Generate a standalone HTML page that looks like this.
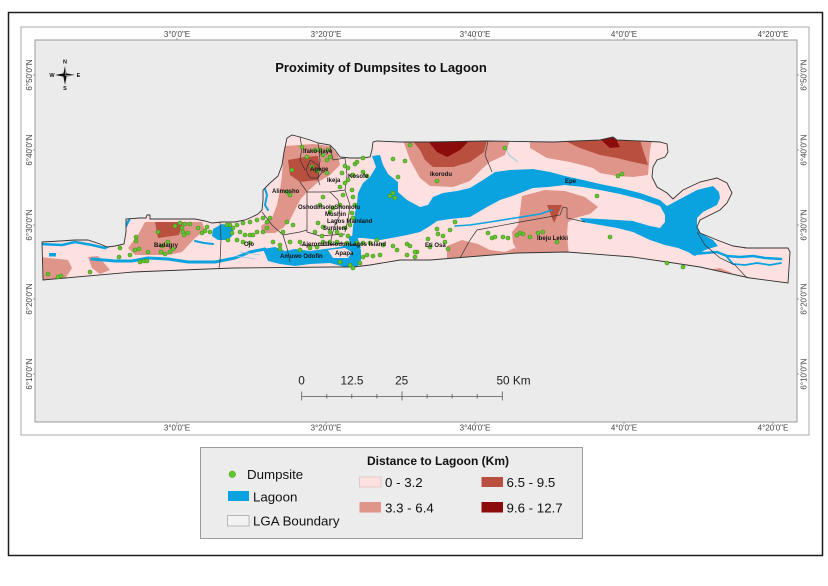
<!DOCTYPE html>
<html><head><meta charset="utf-8"><style>
html,body{margin:0;padding:0;background:#fff;}
svg{display:block;}
text{font-family:"Liberation Sans",sans-serif;}
.d{fill:#66c52f;stroke:#3f8a1f;stroke-width:.6;}
.lb{font-size:6px;font-weight:bold;fill:#111;}
.ax{font-size:8px;fill:#444;}
.lga{fill:none;stroke:#333;stroke-width:.7;}
.ch{fill:none;stroke:#0aa2df;stroke-linejoin:round;stroke-linecap:round;}
</style></head><body>
<svg width="828" height="586" viewBox="0 0 828 586" xmlns="http://www.w3.org/2000/svg">
<defs>
<clipPath id="st"><polygon id="stp" points="42,242 60,241 75,240 88,240 100,244 107,247 115,246 124,244 126,232 126,219 140,218 146,218 147,215 150,215 150,219 170,219 195,219 205,221 212,223 222,222 235,222 245,220 252,217 258,214 262,210 263,200 263,190 270,183 278,176 282,165 284,152 287,138 292,135 300,137 310,140 318,143 330,145 335,150 340,157 350,158 362,158 370,157 372,150 373,142 377,141 400,142 430,142 487,141 553,142 600,140 613,137 617,140 640,141 660,142 667,144 668,152 665,157 657,160 653,167 652,177 657,187 667,193 673,199 683,190 700,182 717,178 727,183 732,193 727,203 720,210 700,220 697,227 700,233 717,240 733,246 747,248 788,248 790,252 788,283 750,278 700,267 667,262 633,257 567,252 517,253 467,257 430,260 400,260 370,265 353,267 333,267 233,268 133,272 43,280"/></clipPath>
</defs>
<rect x="0" y="0" width="828" height="586" fill="#fff"/>
<!-- outer frame -->
<rect x="8.5" y="12.5" width="814" height="543" fill="none" stroke="#1c1c1c" stroke-width="1.5"/>
<!-- map frame -->
<rect x="21" y="27" width="788" height="408" fill="#fff" stroke="#a8a8a8" stroke-width="1"/>
<rect x="35" y="40" width="762" height="382" fill="#ebebeb" stroke="#9a9a9a" stroke-width="1"/>

<!-- ticks -->
<g stroke="#777" stroke-width=".7">
<line x1="177" y1="38" x2="177" y2="40"/><line x1="326" y1="38" x2="326" y2="40"/><line x1="475" y1="38" x2="475" y2="40"/><line x1="624" y1="38" x2="624" y2="40"/><line x1="773" y1="38" x2="773" y2="40"/>
<line x1="177" y1="422" x2="177" y2="424"/><line x1="326" y1="422" x2="326" y2="424"/><line x1="475" y1="422" x2="475" y2="424"/><line x1="624" y1="422" x2="624" y2="424"/><line x1="773" y1="422" x2="773" y2="424"/>
<line x1="33" y1="75" x2="35" y2="75"/><line x1="33" y1="150" x2="35" y2="150"/><line x1="33" y1="225" x2="35" y2="225"/><line x1="33" y1="299" x2="35" y2="299"/><line x1="33" y1="374" x2="35" y2="374"/>
<line x1="797" y1="75" x2="799" y2="75"/><line x1="797" y1="150" x2="799" y2="150"/><line x1="797" y1="225" x2="799" y2="225"/><line x1="797" y1="299" x2="799" y2="299"/><line x1="797" y1="374" x2="799" y2="374"/>
</g>
<g class="ax" text-anchor="middle">
<text x="177" y="37">3°0'0"E</text><text x="326" y="37">3°20'0"E</text><text x="475" y="37">3°40'0"E</text><text x="624" y="37">4°0'0"E</text><text x="773" y="37">4°20'0"E</text>
<text x="177" y="430.5">3°0'0"E</text><text x="326" y="430.5">3°20'0"E</text><text x="475" y="430.5">3°40'0"E</text><text x="624" y="430.5">4°0'0"E</text><text x="773" y="430.5">4°20'0"E</text>
<text transform="translate(32,75) rotate(-90)">6°50'0"N</text>
<text transform="translate(32,150) rotate(-90)">6°40'0"N</text>
<text transform="translate(32,225) rotate(-90)">6°30'0"N</text>
<text transform="translate(32,299) rotate(-90)">6°20'0"N</text>
<text transform="translate(32,374) rotate(-90)">6°10'0"N</text>
<text transform="translate(806.5,75) rotate(-90)">6°50'0"N</text>
<text transform="translate(806.5,150) rotate(-90)">6°40'0"N</text>
<text transform="translate(806.5,225) rotate(-90)">6°30'0"N</text>
<text transform="translate(806.5,299) rotate(-90)">6°20'0"N</text>
<text transform="translate(806.5,374) rotate(-90)">6°10'0"N</text>
</g>

<!-- title -->
<text x="381" y="72" text-anchor="middle" font-size="13" font-weight="bold" fill="#111">Proximity of Dumpsites to Lagoon</text>

<!-- compass -->
<polygon points="65,66 66.6,73.4 75,75 66.6,76.6 65,85 63.4,76.6 55,75 63.4,73.4" fill="#111"/>
<polygon points="65,66 66.6,73.4 65,75" fill="#fff" opacity=".5"/>
<polygon points="75,75 66.6,76.6 65,75" fill="#fff" opacity=".5"/>
<g font-family="Liberation Serif,serif" font-size="5.5" font-weight="bold" fill="#111" text-anchor="middle">
<text x="65" y="63.5">N</text><text x="65" y="90">S</text><text x="52" y="77">W</text><text x="78.5" y="77">E</text>
</g>

<!-- MAP -->
<g clip-path="url(#st)">
<rect x="40" y="130" width="760" height="160" fill="#fde1e1"/>
<!-- salmon 3.3-6.4 -->
<g fill="#e0958b">
<polygon points="145,222 202,222 205,230 195,238 182,252 168,255 135,255 128,248 138,235"/>
<polygon points="40,257 68,260 72,268 65,279 40,282"/>
<polygon points="88,257 98,256 110,270 100,274 92,268"/>
<polygon points="285,146 313,144 330,146 338,155 340,165 330,175 318,182 307,192 300,200 295,210 290,220 283,228 275,233 262,233 261,226 272,218 277,205 280,190 282,175 283,160"/>
<polygon points="403,140 510,140 505,155 490,162 483,168 470,181 453,187 430,186 420,178 410,160"/>
<polygon points="530,140 652,140 650,150 648,175 633,177 617,176 600,173 593,168 570,162 547,158 530,148"/>
<polygon points="522,196 545,190 565,191 585,197 598,207 590,214 575,218 568,222 567,235 569,256 545,256 520,256 513,243 512,232 518,225 520,212"/>
<polygon points="447,246 462,240 478,244 490,250 505,252 515,248 522,256 447,262"/>
<polygon points="705,270 720,268 732,273 716,276"/>
<polygon points="738,244 748,245 745,249"/>
</g>
<!-- 6.5-9.5 -->
<g fill="#b84f3f">
<polygon points="155,222 183,222 179,235 158,238"/>
<polygon points="288,160 305,157 318,156 320,168 318,180 300,182 290,175"/>
<polygon points="412,140 487,140 484,152 470,162 453,167 433,167 425,160 420,150"/>
<polygon points="563,140 640,140 643,150 648,165 633,162 617,158 600,155 580,148"/>
<polygon points="547,205 562,205 554,223"/>
</g>
<!-- 9.6-12.7 -->
<g fill="#8c0c0c">
<polygon points="427,140 470,140 460,150 447,157 437,152"/>
<polygon points="600,139 615,137 620,147 610,148"/>
</g>
<!-- lagoon -->
<g fill="#0aa2df">
<polygon points="372,156 380,155 383,165 388,174 398,182 398,192 407,200 420,207 428,205 433,197 443,193 457,191 470,188 483,180 495,172 510,170 533,169 550,172 565,176 583,180 600,184 620,188 640,193 660,200 667,206 680,199 697,190 713,186 719,192 720,198 717,205 703,212 697,218 697,228 702,234 713,240 718,246 705,250 695,256 688,252 678,248 665,245 650,240 633,232 617,228 600,225 583,222 580,218 600,219 617,220 633,221 650,226 660,228 665,222 665,215 660,206 640,199 620,194 600,190 583,187 565,185 548,187 533,188 515,195 500,200 487,207 470,217 450,219 437,221 430,226 420,232 407,235 397,237 380,240 363,238 352,238 353,227 355,213 357,203 358,193 363,183 370,177 376,167"/>
<polygon points="348,236 357,236 361,248 352,250"/>
<polygon points="263,249 275,247 285,251 295,249 310,251 325,249 340,247 350,244 356,240 361,250 361,260 356,269 345,267 330,263 310,264 295,266 280,264 268,261"/>
<polygon points="213,229 222,224 232,226 234,234 228,240 218,240 212,236"/>
<rect x="49" y="253" width="7" height="3.5"/>
</g>
<polygon points="328,250 345,248 352,252 348,258 333,258" fill="#fde1e1"/>
<polygon points="665,249 678,251 690,256 680,258 668,255" fill="#fde1e1"/>
<path class="ch" stroke-width="2.5" d="M40,244 L62,245 75,242 92,245 105,248 115,243 122,233 127,224 130,218"/>
<path class="ch" stroke-width="3" d="M92,259 L115,261 132,261 148,258 168,259 188,262 215,262 235,258 250,252 265,249"/>
<path class="ch" stroke-width="2" d="M195,241 L204,243 213,244"/>
<path class="ch" stroke-width="2" d="M264,186 L267,195 265,205 268,210"/>
<path class="ch" stroke-width="1.6" d="M455,226 L470,225 490,222 515,218 540,214 552,210"/>
<path class="ch" stroke-width="2.5" d="M693,254 L705,253 717,252 727,256 740,257 753,256 765,258 781,259"/>
<path class="ch" stroke-width="1.8" d="M727,257 L733,264 745,265 757,263 770,265 781,263"/>
<path fill="none" stroke="#8fc9e6" stroke-width=".8" d="M505,145 L509,155 518,162 M240,252 L260,255 M236,256 L255,259"/>
</g>
<use href="#stp" fill="none" stroke="#333" stroke-width=".9"/>

<!-- LGA boundaries -->
<g class="lga">
<polyline points="220,222 221,240 220,262 219,268"/>
<polyline points="262,212 272,225 283,235 287,248 290,262"/>
<polyline points="283,235 300,232 307,230"/>
<polyline points="307,192 307,232"/>
<polyline points="300,182 307,192 330,192 345,190"/>
<polyline points="318,143 320,160 318,180 320,185"/>
<polyline points="300,137 302,148 300,160 305,170"/>
<polyline points="330,146 333,160 345,158"/>
<polyline points="345,158 347,175 345,190 350,205 348,220 345,232"/>
<polyline points="330,192 338,200 340,215 335,225 332,235 330,245"/>
<polyline points="307,232 320,236 332,235 345,234"/>
<polyline points="300,245 315,246 330,245 345,243 360,246"/>
<polyline points="488,141 485,155 490,167 492,172"/>
<polyline points="460,258 470,240 477,230 520,222 560,215 563,207 567,208 567,218 585,222"/>
<polyline points="697,232 705,245 720,258 735,265 747,278"/>
<polyline points="310,160 318,165 322,172 318,178 310,178 306,170 310,160"/>
</g>

<!-- dumpsites -->
<g class="d">
<circle cx="136" cy="237" r="2"/><circle cx="136" cy="241" r="2"/><circle cx="120" cy="248" r="2"/><circle cx="119" cy="257" r="2"/><circle cx="135" cy="250" r="2"/><circle cx="139" cy="249" r="2"/><circle cx="148" cy="252" r="2"/><circle cx="161" cy="252" r="2"/><circle cx="165" cy="254" r="2"/><circle cx="170" cy="252" r="2"/><circle cx="168" cy="242" r="2"/><circle cx="158" cy="232" r="2"/><circle cx="175" cy="226" r="2"/><circle cx="185" cy="224" r="2"/><circle cx="190" cy="224" r="2"/><circle cx="182" cy="228" r="2"/><circle cx="183" cy="232" r="2"/><circle cx="188" cy="233" r="2"/><circle cx="184" cy="235" r="2"/><circle cx="198" cy="228" r="2"/><circle cx="202" cy="233" r="2"/><circle cx="205" cy="231" r="2"/><circle cx="207" cy="227" r="2"/><circle cx="210" cy="232" r="2"/><circle cx="227" cy="225" r="2"/><circle cx="232" cy="233" r="2"/><circle cx="228" cy="240" r="2"/><circle cx="140" cy="262" r="2"/><circle cx="144" cy="261" r="2"/><circle cx="147" cy="261" r="2"/><circle cx="130" cy="255" r="2"/><circle cx="90" cy="272" r="2"/><circle cx="48" cy="274" r="2"/><circle cx="58" cy="277" r="2"/><circle cx="61" cy="276" r="2"/><circle cx="162" cy="246" r="2"/><circle cx="173" cy="249" r="2"/><circle cx="180" cy="223" r="2"/>
<circle cx="230" cy="225" r="2"/><circle cx="233" cy="228" r="2"/><circle cx="237" cy="225" r="2"/><circle cx="243" cy="223" r="2"/><circle cx="250" cy="222" r="2"/><circle cx="240" cy="232" r="2"/><circle cx="245" cy="235" r="2"/><circle cx="250" cy="235" r="2"/><circle cx="257" cy="220" r="2"/><circle cx="263" cy="218" r="2"/><circle cx="267" cy="222" r="2"/><circle cx="270" cy="218" r="2"/><circle cx="267" cy="228" r="2"/><circle cx="263" cy="232" r="2"/><circle cx="257" cy="232" r="2"/><circle cx="253" cy="235" r="2"/><circle cx="243" cy="242" r="2"/><circle cx="250" cy="243" r="2"/><circle cx="237" cy="240" r="2"/><circle cx="273" cy="242" r="2"/><circle cx="280" cy="245" r="2"/><circle cx="290" cy="242" r="2"/><circle cx="300" cy="242" r="2"/><circle cx="293" cy="225" r="2"/><circle cx="287" cy="222" r="2"/><circle cx="283" cy="232" r="2"/><circle cx="292" cy="170" r="2"/><circle cx="290" cy="195" r="2"/><circle cx="287" cy="192" r="2"/><circle cx="302" cy="147" r="2"/><circle cx="307" cy="157" r="2"/><circle cx="312" cy="167" r="2"/><circle cx="315" cy="150" r="2"/><circle cx="320" cy="150" r="2"/><circle cx="323" cy="155" r="2"/><circle cx="328" cy="150" r="2"/><circle cx="327" cy="160" r="2"/><circle cx="330" cy="157" r="2"/><circle cx="317" cy="171" r="2"/><circle cx="327" cy="173" r="2"/><circle cx="323" cy="197" r="2"/><circle cx="320" cy="205" r="2"/><circle cx="330" cy="212" r="2"/><circle cx="333" cy="208" r="2"/><circle cx="340" cy="205" r="2"/><circle cx="343" cy="195" r="2"/><circle cx="340" cy="187" r="2"/><circle cx="345" cy="183" r="2"/><circle cx="348" cy="180" r="2"/><circle cx="348" cy="168" r="2"/><circle cx="353" cy="175" r="2"/><circle cx="355" cy="164" r="2"/><circle cx="345" cy="166" r="2"/><circle cx="342" cy="173" r="2"/><circle cx="352" cy="190" r="2"/><circle cx="353" cy="197" r="2"/><circle cx="355" cy="205" r="2"/><circle cx="352" cy="213" r="2"/><circle cx="353" cy="218" r="2"/><circle cx="350" cy="225" r="2"/><circle cx="345" cy="228" r="2"/><circle cx="341" cy="235" r="2"/><circle cx="348" cy="236" r="2"/><circle cx="337" cy="232" r="2"/><circle cx="330" cy="232" r="2"/><circle cx="323" cy="227" r="2"/><circle cx="318" cy="223" r="2"/><circle cx="315" cy="232" r="2"/><circle cx="322" cy="236" r="2"/><circle cx="330" cy="242" r="2"/><circle cx="323" cy="242" r="2"/><circle cx="337" cy="242" r="2"/><circle cx="347" cy="243" r="2"/><circle cx="357" cy="243" r="2"/><circle cx="363" cy="243" r="2"/><circle cx="370" cy="243" r="2"/><circle cx="377" cy="240" r="2"/><circle cx="383" cy="245" r="2"/><circle cx="393" cy="246" r="2"/><circle cx="407" cy="244" r="2"/><circle cx="410" cy="246" r="2"/><circle cx="417" cy="252" r="2"/><circle cx="367" cy="255" r="2"/><circle cx="373" cy="256" r="2"/><circle cx="363" cy="257" r="2"/><circle cx="350" cy="265" r="2"/><circle cx="353" cy="268" r="2"/><circle cx="280" cy="249" r="2"/><circle cx="300" cy="250" r="2"/><circle cx="310" cy="248" r="2"/><circle cx="317" cy="247" r="2"/><circle cx="340" cy="262" r="2"/><circle cx="357" cy="162" r="2"/><circle cx="363" cy="158" r="2"/><circle cx="367" cy="176" r="2"/><circle cx="363" cy="172" r="2"/><circle cx="393" cy="159" r="2"/><circle cx="405" cy="161" r="2"/><circle cx="390" cy="196" r="2"/><circle cx="395" cy="198" r="2"/><circle cx="393" cy="193" r="2"/><circle cx="410" cy="145" r="2"/><circle cx="398" cy="177" r="2"/><circle cx="397" cy="250" r="2"/><circle cx="380" cy="255" r="2"/><circle cx="407" cy="255" r="2"/><circle cx="415" cy="252" r="2"/><circle cx="415" cy="257" r="2"/><circle cx="360" cy="263" r="2"/>
<circle cx="437" cy="181" r="2"/><circle cx="505" cy="148" r="2"/><circle cx="455" cy="222" r="2"/><circle cx="437" cy="229" r="2"/><circle cx="438" cy="234" r="2"/><circle cx="443" cy="236" r="2"/><circle cx="445" cy="242" r="2"/><circle cx="450" cy="230" r="2"/><circle cx="428" cy="239" r="2"/><circle cx="430" cy="247" r="2"/><circle cx="448" cy="249" r="2"/><circle cx="488" cy="233" r="2"/><circle cx="492" cy="238" r="2"/><circle cx="495" cy="237" r="2"/><circle cx="503" cy="237" r="2"/><circle cx="508" cy="238" r="2"/><circle cx="517" cy="235" r="2"/><circle cx="520" cy="233" r="2"/><circle cx="523" cy="234" r="2"/><circle cx="530" cy="237" r="2"/><circle cx="538" cy="233" r="2"/><circle cx="543" cy="232" r="2"/><circle cx="557" cy="242" r="2"/><circle cx="597" cy="196" r="2"/><circle cx="610" cy="237" r="2"/><circle cx="618" cy="176" r="2"/><circle cx="622" cy="174" r="2"/><circle cx="667" cy="263" r="2"/><circle cx="683" cy="267" r="2"/>
</g>

<!-- LGA labels -->
<g class="lb">
<text x="154" y="247">Badagry</text>
<text x="244" y="246">Ojo</text>
<text x="272" y="193">Alimosho</text>
<text x="303" y="153">Ifako-Ijaye</text>
<text x="310" y="171">Agege</text>
<text x="327" y="182">Ikeja</text>
<text x="348" y="178">Kosofe</text>
<text x="298" y="209">Oshodi/IsoloShomolu</text>
<text x="325" y="216">Mushin</text>
<text x="327" y="223">Lagos Mainland</text>
<text x="323" y="230">Surulere</text>
<text x="302" y="246">Ajeromi/IfelodunLagos Island</text>
<text x="280" y="258">Amuwo Odofin</text>
<text x="335" y="255">Apapa</text>
<text x="430" y="176">Ikorodu</text>
<text x="565" y="183">Epe</text>
<text x="425" y="247">Eti Osa</text>
<text x="537" y="240">Ibeju Lekki</text>
</g>

<!-- scale bar -->
<g font-size="11.8" fill="#222">
<text x="301.5" y="384.5" text-anchor="middle">0</text>
<text x="352" y="384.5" text-anchor="middle">12.5</text>
<text x="401.7" y="384.5" text-anchor="middle">25</text>
<text x="496.5" y="384.5">50 Km</text>
</g>
<g stroke="#555" stroke-width=".8">
<line x1="301.7" y1="396.5" x2="502.3" y2="396.5"/>
<line x1="301.7" y1="391.5" x2="301.7" y2="400.5"/>
<line x1="326.8" y1="394" x2="326.8" y2="398.5"/>
<line x1="351.8" y1="394" x2="351.8" y2="398.5"/>
<line x1="376.9" y1="394" x2="376.9" y2="398.5"/>
<line x1="402" y1="391.5" x2="402" y2="400.5"/>
<line x1="427.1" y1="394" x2="427.1" y2="398.5"/>
<line x1="452.1" y1="394" x2="452.1" y2="398.5"/>
<line x1="477.2" y1="394" x2="477.2" y2="398.5"/>
<line x1="502.3" y1="391.5" x2="502.3" y2="400.5"/>
</g>

<!-- legend -->
<rect x="200.5" y="447.5" width="382" height="91" fill="#ececec" stroke="#9c9c9c" stroke-width="1"/>
<circle cx="232.3" cy="474.3" r="3.3" fill="#5cc62a" stroke="#4aa020" stroke-width=".5"/>
<text x="247" y="479" font-size="13.3" fill="#111">Dumpsite</text>
<rect x="228" y="491" width="21" height="10" fill="#0aa2df"/>
<text x="253" y="501.5" font-size="13.3" fill="#111">Lagoon</text>
<rect x="227.5" y="515.5" width="21.5" height="10.5" fill="#f2f2f2" stroke="#aaa" stroke-width=".8"/>
<text x="253" y="525.5" font-size="13.3" fill="#111">LGA Boundary</text>
<text x="367" y="465" font-size="12" font-weight="bold" fill="#111">Distance to Lagoon (Km)</text>
<rect x="359.5" y="477" width="21.5" height="10" fill="#fde1e1" stroke="#d8b8b8" stroke-width=".6"/>
<text x="385" y="487" font-size="13.3" fill="#111">0 - 3.2</text>
<rect x="359.5" y="502" width="21.5" height="10.5" fill="#e0958b"/>
<text x="385" y="512.5" font-size="13.3" fill="#111">3.3 - 6.4</text>
<rect x="481.5" y="477" width="21.5" height="10" fill="#b84f3f"/>
<text x="506.5" y="487" font-size="13.3" fill="#111">6.5 - 9.5</text>
<rect x="481.5" y="502" width="21.5" height="10.5" fill="#8c0c0c"/>
<text x="506.5" y="512.5" font-size="13.3" fill="#111">9.6 - 12.7</text>
</svg>
</body></html>
